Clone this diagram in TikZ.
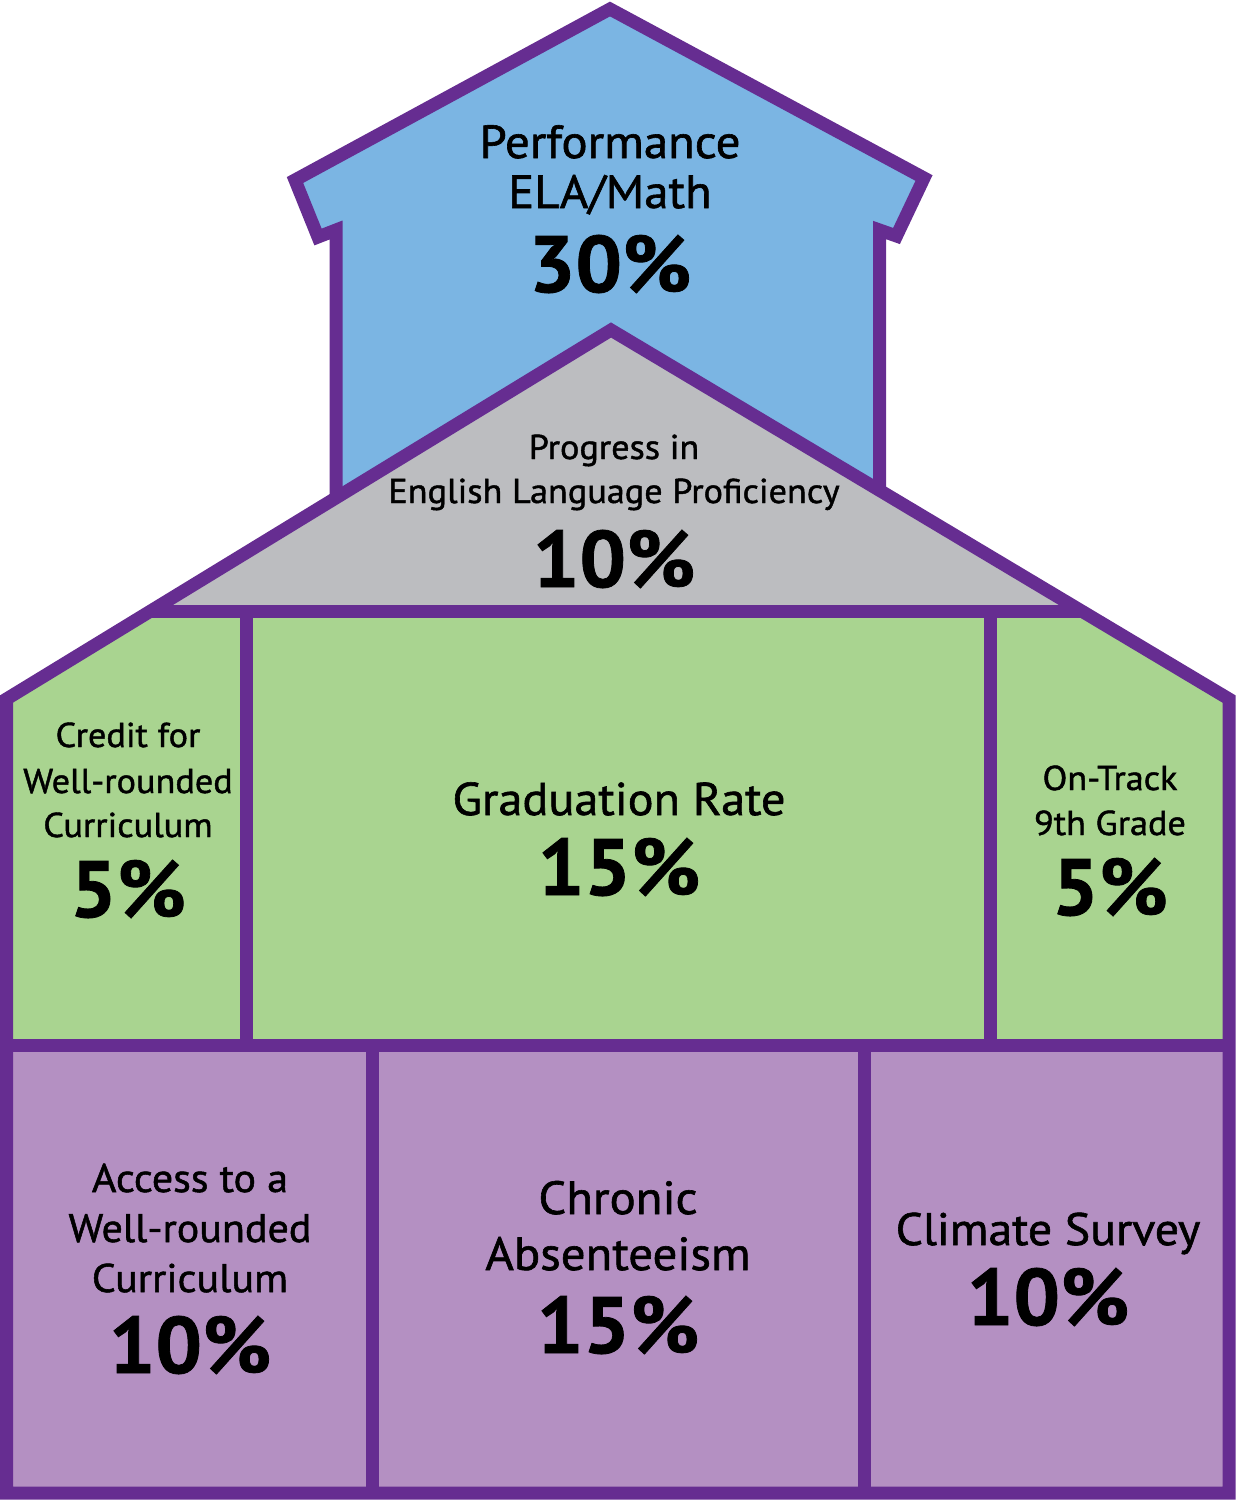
\documentclass[tikz,border=0pt]{standalone}
\usepackage{fontspec}
\setmainfont{PT Sans}
\newfontfamily\lblfont{PT Sans}[FakeStretch=1.05,FakeBold=1.3]
\newfontfamily\pctfont{PT Sans}[FakeStretch=1.03,FakeBold=1.0]
\usetikzlibrary{calc}
\definecolor{hstroke}{HTML}{662D91}
\definecolor{hblue}{HTML}{7BB5E3}
\definecolor{hgray}{HTML}{BCBDC0}
\definecolor{hgreen}{HTML}{A9D490}
\definecolor{hpurple}{HTML}{B490C2}
\newcommand\fsz[1]{\fontsize{#1}{#1}\selectfont}
\begin{document}
\begin{tikzpicture}[x=1pt,y=-1pt,line join=miter,
  wall/.style={draw=hstroke,line width=13pt},
  lbl/.style={anchor=base,inner sep=0pt,text=black},
  pct/.style={lbl,font=\pctfont\fsz{80}\bfseries}]
\useasboundingbox (0,0) rectangle (1236,1500);
% top (blue) block
\coordinate (tA) at (610,9);
\coordinate (tL) at (295,180);
\coordinate (tLb) at (318,237);
\coordinate (tLw) at (336,230);
\coordinate (tLd) at (336,560);
\coordinate (tRd) at (879.5,560);
\coordinate (tRw) at (879.5,230);
\coordinate (tRb) at (896.5,236);
\coordinate (tR) at (924,178);
% lower house
\coordinate (rA) at (611,330);
\coordinate (rL) at (6.5,699);
\coordinate (rR) at (1229,699);
\coordinate (bL) at (6.5,1493);
\coordinate (bR) at (1229,1493);
\coordinate (gL) at ($(rA)!0.7615!(rL)$);
\coordinate (gR) at ($(rA)!0.7615!(rR)$);
\coordinate (mL) at (6.5,1045);
\coordinate (mR) at (1229,1045);
\coordinate (d1t) at (246,611);
\coordinate (d1b) at (246,1045);
\coordinate (d2t) at (990,611);
\coordinate (d2b) at (990,1045);
\coordinate (d3t) at (372,1045);
\coordinate (d3b) at (372,1493);
\coordinate (d4t) at (864.5,1045);
\coordinate (d4b) at (864.5,1493);

\filldraw[wall,fill=hblue] (tA)--(tL)--(tLb)--(tLw)--(tLd)--(tRd)--(tRw)--(tRb)--(tR)--cycle;
\fill[hgreen] (rA)--(rL)--(bL)--(bR)--(rR)--cycle;
\fill[hgray] (rA)--(gL)--(gR)--cycle;
\fill[hpurple] (mL) rectangle (bR);
\draw[wall] (gL)--(gR);
\draw[wall] (mL)--(mR);
\draw[wall] (d1t)--(d1b);
\draw[wall] (d2t)--(d2b);
\draw[wall] (d3t)--(d3b);
\draw[wall] (d4t)--(d4b);
\draw[wall] (rA)--(rL)--(bL)--(bR)--(rR)--cycle;

% texts
\node[lbl,font=\lblfont\fsz{46.5}] (perf1) at (610,158) {Performance};
\node[lbl,font=\lblfont\fsz{46.5}] (perf2) at (610,208) {ELA/Math};
\node[pct] (perf3) at (610,292) {30\%};

\node[lbl,font=\lblfont\fsz{34.5}] (prog1) at (614,459) {Progress in};
\node[lbl,font=\lblfont\fsz{34.5}] (prog2) at (614,503) {English Language Proficiency};
\node[pct] (prog3) at (614,587) {10\%};

\node[lbl,font=\lblfont\fsz{34.5}] (cred1) at (128,747) {Credit for};
\node[lbl,font=\lblfont\fsz{34.5}] (cred2) at (128,793) {Well-rounded};
\node[lbl,font=\lblfont\fsz{34.5}] (cred3) at (128,837) {Curriculum};
\node[pct] (cred4) at (128,917) {5\%};

\node[lbl,font=\lblfont\fsz{46}] (grad1) at (619,815) {Graduation Rate};
\node[pct] (grad2) at (619,895) {15\%};

\node[lbl,font=\lblfont\fsz{34.5}] (ont1) at (1110,790) {On-Track};
\node[lbl,font=\lblfont\fsz{34.5}] (ont2) at (1110,835) {9th Grade};
\node[pct] (ont3) at (1110,915) {5\%};

\node[lbl,font=\lblfont\fsz{40}] (acc1) at (190,1192) {Access to a};
\node[lbl,font=\lblfont\fsz{40}] (acc2) at (190,1242) {Well-rounded};
\node[lbl,font=\lblfont\fsz{40}] (acc3) at (190,1292) {Curriculum};
\node[pct] (acc4) at (190,1373) {10\%};

\node[lbl,font=\lblfont\fsz{46.5}] (chr1) at (618,1214) {Chronic};
\node[lbl,font=\lblfont\fsz{46.5}] (chr2) at (618,1270) {Absenteeism};
\node[pct] (chr3) at (618,1353) {15\%};

\node[lbl,font=\lblfont\fsz{45.5}] (cli1) at (1048,1245) {Climate Survey};
\node[pct] (cli2) at (1048,1325) {10\%};
\end{tikzpicture}
\end{document}
